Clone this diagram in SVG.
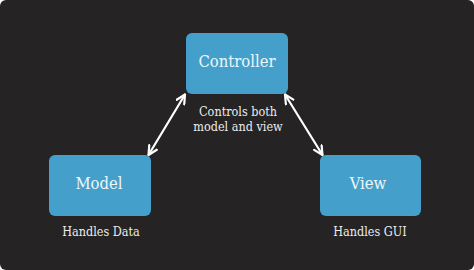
<svg xmlns="http://www.w3.org/2000/svg" width="474" height="270" viewBox="0 0 474 270">
<defs>
<marker id="ah" viewBox="0 0 10 10" refX="9" refY="5" markerWidth="11" markerHeight="11" markerUnits="userSpaceOnUse" orient="auto-start-reverse">
<path d="M1,1 L9,5 L1,9" fill="none" stroke="#ffffff" stroke-width="2" stroke-linecap="round" stroke-linejoin="round"/>
</marker>
<style>
.box{fill:#44a0ca;}
.bt{font-family:"DejaVu Serif Condensed","DejaVu Serif",serif;font-size:16.5px;fill:#eef6fa;text-anchor:middle;}
.lb{font-family:"DejaVu Serif Condensed","DejaVu Serif",serif;font-size:12.5px;fill:#ececec;text-anchor:middle;}
.cn{stroke:#ffffff;stroke-width:2.2;fill:none;stroke-linecap:round;}
</style>
</defs>
<rect x="0" y="0" width="474" height="270" fill="#ffffff"/>
<rect x="0" y="0" width="474" height="270" rx="6" fill="#252324"/>
<g id="connectors">
<line class="cn" x1="185" y1="94.5" x2="148.5" y2="155" marker-start="url(#ah)" marker-end="url(#ah)"/>
<line class="cn" x1="285" y1="94.5" x2="322.5" y2="155" marker-start="url(#ah)" marker-end="url(#ah)"/>
</g>
<g id="controller">
<rect class="box" x="186" y="33" width="102" height="61" rx="6"/>
<text class="bt" x="237" y="67">Controller</text>
<text class="lb" x="238" y="116">Controls both</text>
<text class="lb" x="238" y="131">model and view</text>
</g>
<g id="model">
<rect class="box" x="49" y="155" width="102" height="61" rx="6"/>
<text class="bt" x="99" y="189">Model</text>
<text class="lb" x="101" y="236">Handles Data</text>
</g>
<g id="view">
<rect class="box" x="320" y="155" width="101" height="61" rx="6"/>
<text class="bt" x="368" y="189">View</text>
<text class="lb" x="370" y="236">Handles GUI</text>
</g>
</svg>
